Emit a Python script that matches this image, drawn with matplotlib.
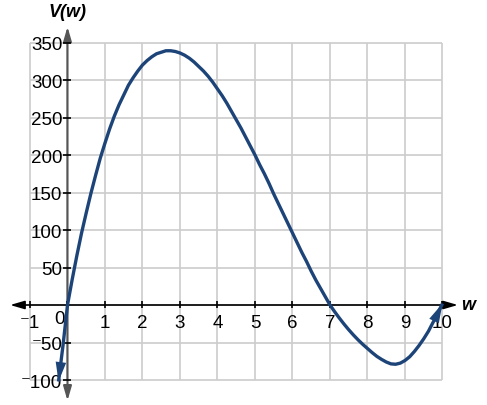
import numpy as np
import matplotlib
matplotlib.use('Agg')
import matplotlib.pyplot as plt

plt.rcParams['font.family'] = ['Liberation Sans', 'DejaVu Sans']

# points
w = [-0.24, -0.12,
     0.0, 0.125, 0.25, 0.375, 0.5, 0.625, 0.75, 0.875,
     1.0, 1.125, 1.25, 1.375, 1.5, 1.625, 1.75, 1.875,
     2.0, 2.125, 2.25, 2.375, 2.5, 2.625, 2.75, 2.875,
     3.0, 3.125, 3.25, 3.375, 3.5, 3.625, 3.75, 3.875,
     4.0, 4.125, 4.25, 4.375, 4.5, 4.625, 4.75, 4.875,
     5.0, 5.125, 5.25, 5.375, 5.5, 5.625, 5.75, 5.875,
     6.0, 6.125, 6.25, 6.375, 6.5, 6.625, 6.75, 6.875,
     7.0, 7.125, 7.25, 7.375, 7.5, 7.625, 7.75, 7.875,
     8.0, 8.125, 8.25, 8.375, 8.5, 8.625, 8.75, 8.875,
     9.0, 9.125, 9.25, 9.375, 9.5, 9.625, 9.75, 9.875,
     10.0]
v = [-102, -54,
     0, 34, 66, 96, 123, 149, 173, 196,
     216, 235, 252, 267, 280, 293, 303, 312,
     320, 326, 331, 335, 337, 339, 339, 338,
     336, 333, 329, 324, 318, 312, 305, 297,
     288, 279, 269, 258, 247, 236, 224, 212,
     200, 187, 175, 162, 148, 135, 122, 109,
     96, 83, 70, 58, 45, 33, 22, 11,
     0, -9, -17.5, -25.5, -33, -40, -46.5, -52.5,
     -58, -63.5, -68.5, -72.5, -76, -78.5, -79, -77.5,
     -74, -69, -62, -54, -45, -35, -23, -11,
     2]

xticks = [-1, 0, 1, 2, 3, 4, 5, 6, 7, 8, 9, 10]
xlabels = ['\u207b1', '0', '1', '2', '3', '4', '5', '6', '7', '8', '9', '10']
yticks = [-100, -50, 50, 100, 150, 200, 250, 300, 350]
ylabels = ['\u207b100', '\u207b50', '50', '100', '150', '200', '250', '300', '350']
ygrid = [-100, -50, 0, 50, 100, 150, 200, 250, 300, 350]

fig = plt.figure(figsize=(4.87, 4.06), dpi=100)
ax = fig.add_axes([0, 0, 1, 1])
ax.set_xlim(-1.8, 11.187)
ax.set_ylim(-133.33, 408)
ax.axis('off')

# grid
gc = '#cccccc'
ax.vlines(xticks, ygrid[0], ygrid[-1], color=gc, lw=1.2, zorder=1)
ax.hlines(ygrid, xticks[0], xticks[-1], color=gc, lw=1.2, zorder=1)

# axes with arrows
ax.annotate('', xy=(10.41, 0), xytext=(-1.53, 0),
            arrowprops=dict(arrowstyle='<|-|>,head_length=0.86,head_width=0.25',
                            mutation_scale=10, color='black', lw=1.2,
                            shrinkA=0, shrinkB=0), zorder=2)
ax.annotate('', xy=(0, 371), xytext=(0, -127.6),
            arrowprops=dict(arrowstyle='<|-|>,head_length=0.86,head_width=0.25',
                            mutation_scale=10, color='#555555', lw=1.5,
                            shrinkA=0, shrinkB=0), zorder=2)

# tick marks
ax.vlines(xticks, -4.5, 5, color='black', lw=1.2, zorder=2)
ax.hlines(yticks, -0.12, 0.085, color='black', lw=1.2, zorder=2)

# tick labels
fs = 13.5
for x, lab in zip(xticks, xlabels):
    if x == 0:
        ax.text(-0.08, -6, lab, ha='right', va='top', fontsize=fs)
    else:
        ax.text(x, -12, lab, ha='center', va='top', fontsize=fs)
for y, lab in zip(yticks, ylabels):
    ax.text(-0.14, y, lab, ha='right', va='center_baseline', fontsize=fs)

ax.text(0, 392, 'V(w)', ha='center', va='center', fontsize=13,
        fontweight='bold', fontstyle='italic')
ax.text(10.5, 1, 'w', ha='left', va='center', fontsize=13,
        fontweight='bold', fontstyle='italic')

# curve
col = '#1d4479'
ax.plot(w, v, color=col, lw=2.4, zorder=3, solid_capstyle='butt',
        solid_joinstyle='round')
for tip, prev in ((0, 1), (-1, -2)):
    ax.annotate('', xy=(w[tip], v[tip]), xytext=(w[prev], v[prev]),
                arrowprops=dict(arrowstyle='-|>,head_length=1.4,head_width=0.38',
                                mutation_scale=10, color=col, lw=0,
                                shrinkA=0, shrinkB=0), zorder=4)

fig.savefig('out.png', dpi=100)
